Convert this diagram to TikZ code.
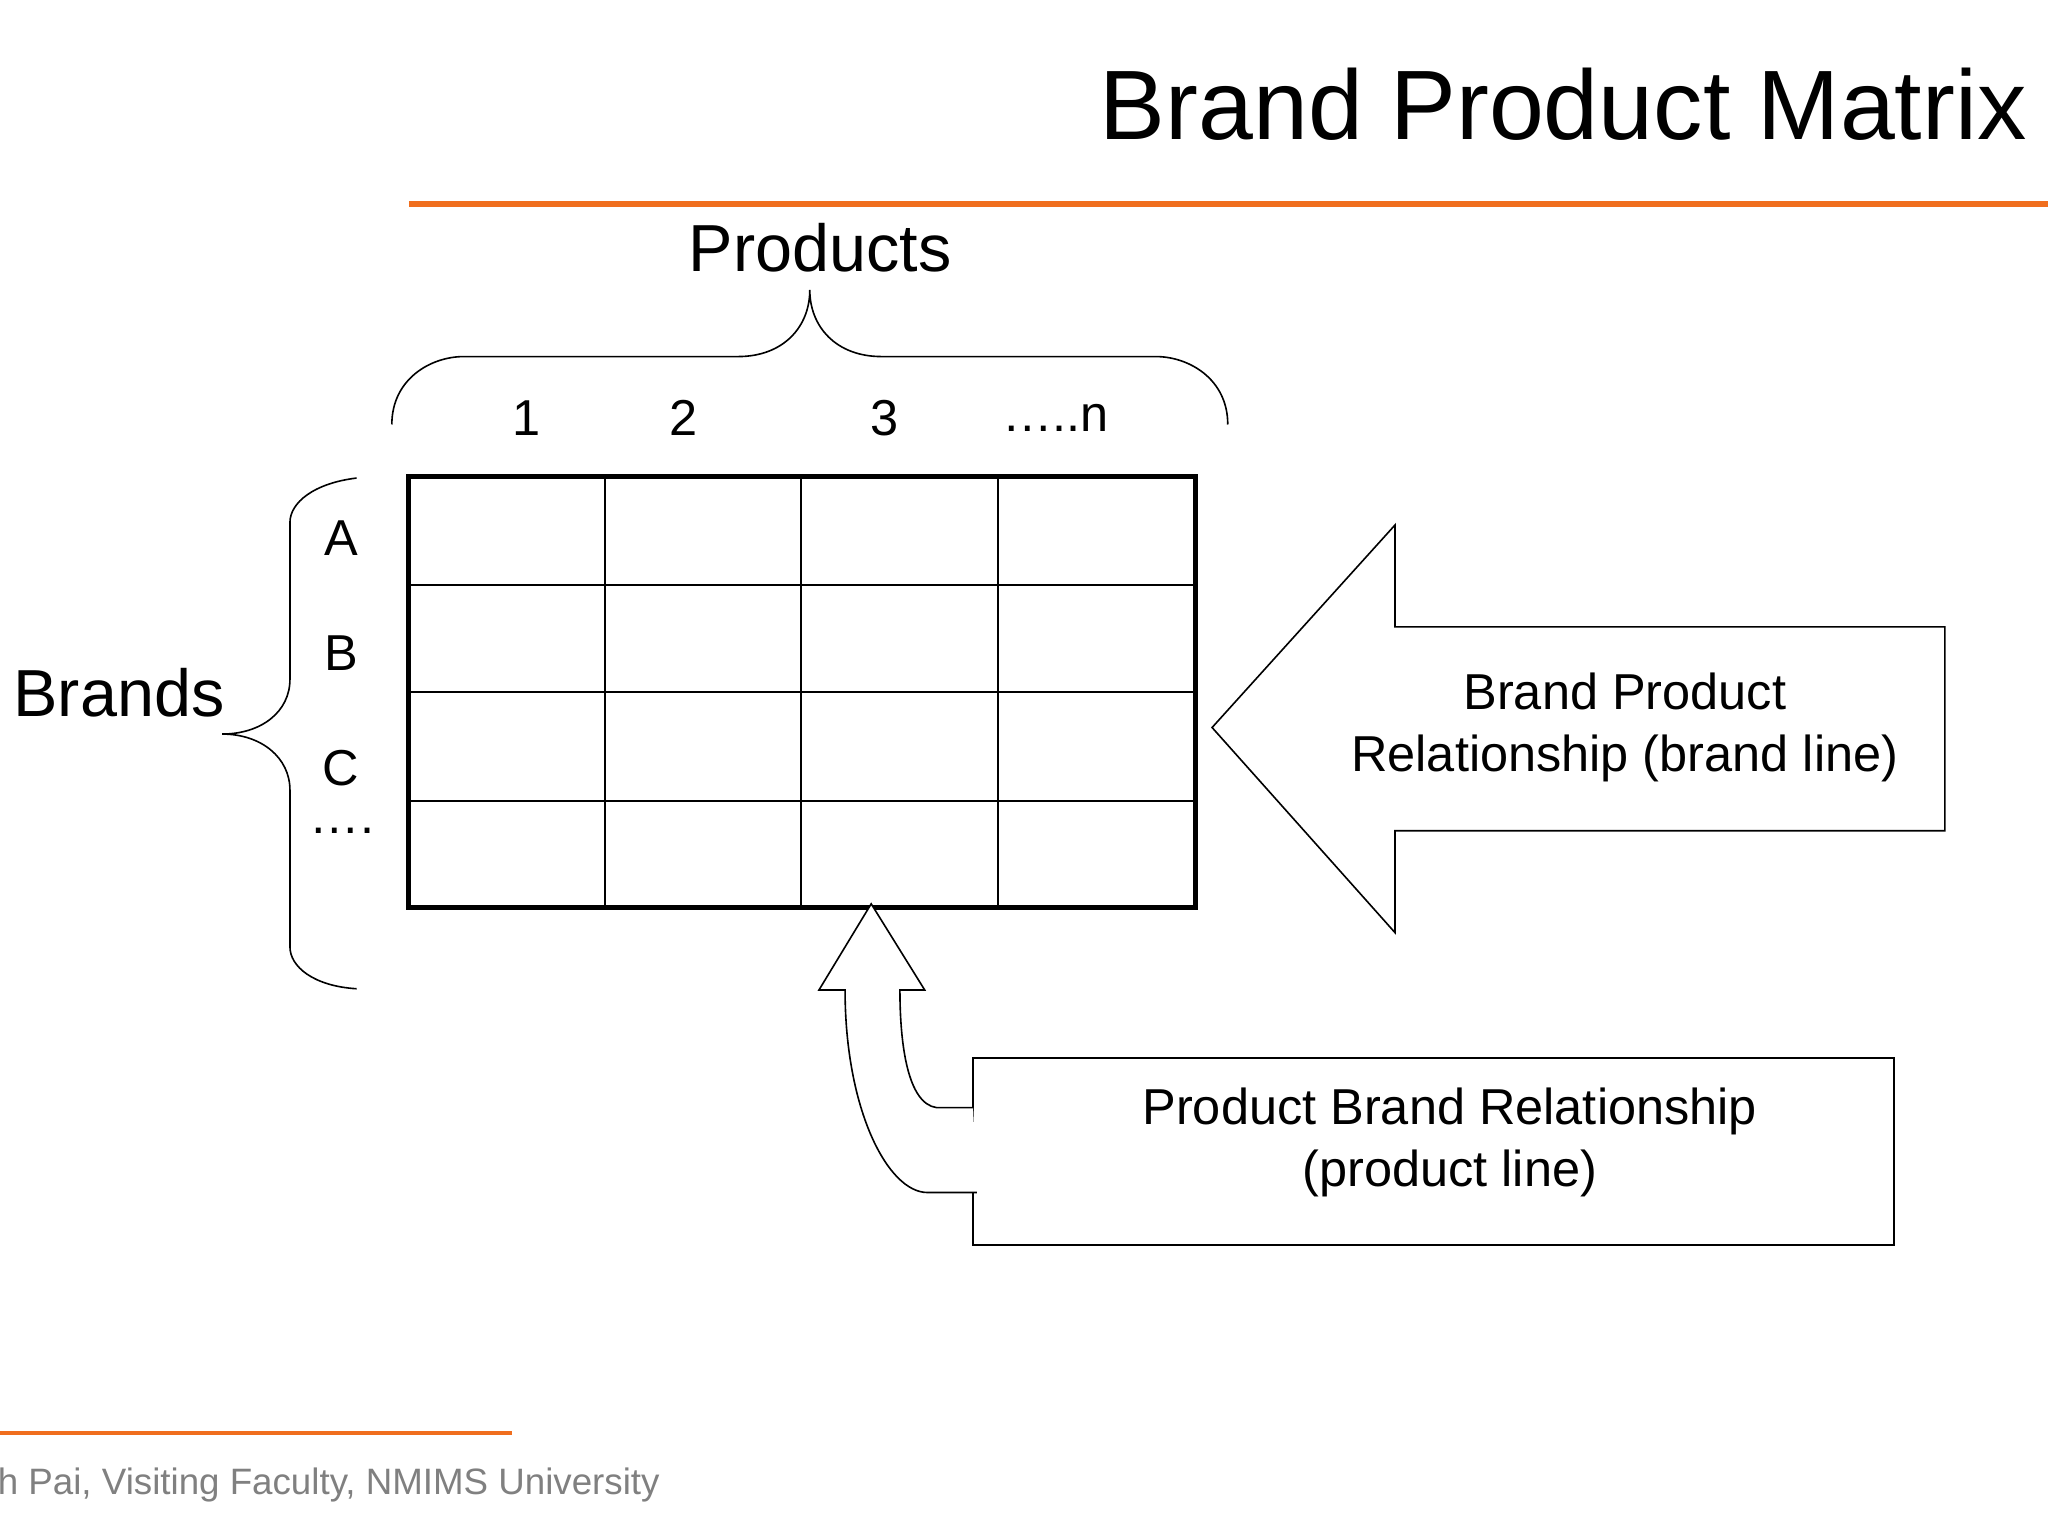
\documentclass[tikz,border=0pt]{standalone}
\usepackage{fontspec}
\setmainfont{Liberation Sans}
\definecolor{org}{RGB}{240,110,30}
\begin{document}
\begin{tikzpicture}[x=0.02cm,y=-0.02cm,
  lbl/.style={font=\fontsize{22}{27}\selectfont,align=center,inner sep=0},
  big/.style={font=\fontsize{29}{34}\selectfont,inner sep=0},
  bline/.style={line width=0.7pt,black}]
\useasboundingbox (0,0) rectangle (1568,1176);
\node[anchor=east,font=\fontsize{43}{50}\selectfont,inner sep=0] (title) at (1552,80) {Brand Product Matrix};
\draw[org,line width=2.5pt] (313,156) -- (1568,156);
\draw[org,line width=2pt] (0,1097) -- (392,1097);
\node[anchor=west,text=gray,font=\fontsize{16}{20}\selectfont,inner sep=0] (foot) at (-2,1137) {h Pai, Visiting Faculty, NMIMS University};
\node[big] (prod) at (628,190) {Products};
\draw[bline] (300,325) .. controls (300,290) and (330,273) .. (355,273) -- (565,273) .. controls (600,273) and (620,250) .. (620,222)
  .. controls (620,250) and (640,273) .. (675,273) -- (885,273) .. controls (910,273) and (940,290) .. (940,325);
\node[lbl] (n1) at (403,320) {1};
\node[lbl] (n2) at (523,320) {2};
\node[lbl] (n3) at (677,320) {3};
\node[lbl] (nn) at (808,320) {…..n};
\node[big,anchor=west] (brands) at (10,530) {Brands};
\draw[bline] (273,366) .. controls (240,370) and (222,385) .. (222,400) -- (222,520) .. controls (222,545) and (200,562) .. (170,562)
  .. controls (200,562) and (222,580) .. (222,605) -- (222,725) .. controls (222,740) and (240,755) .. (273,757);
\node[lbl] (A) at (261,412) {A};
\node[lbl] (B) at (261,500) {B};
\node[lbl] (C) at (261,588) {C};
\node[lbl] (dots) at (262,636) {….};
\foreach \x in {463,613,764} \draw[line width=1pt] (\x,365) -- (\x,695);
\foreach \y in {448,530,613} \draw[line width=1pt] (313,\y) -- (915,\y);
\draw[line width=2.2pt] (313,365) rectangle (915,695);
\draw[bline] (928,557) -- (1068,402) -- (1068,480) -- (1489,480) -- (1489,636) -- (1068,636) -- (1068,714) -- cycle;
\node[lbl] (bpr) at (1244,557) {Brand Product\\Relationship (brand line)};
\draw[bline] (745,810) rectangle (1450,953);
\node[lbl] (pbr) at (1110,875) {Product Brand Relationship\\(product line)};
\draw[bline,fill=white] (745,848) -- (717,848) .. controls (695,845) and (689,800) .. (689,758) -- (708,758) -- (667,692) -- (627,758) -- (647,758)
  .. controls (647,850) and (680,913) .. (710,913) -- (748,913);
\end{tikzpicture}
\end{document}
